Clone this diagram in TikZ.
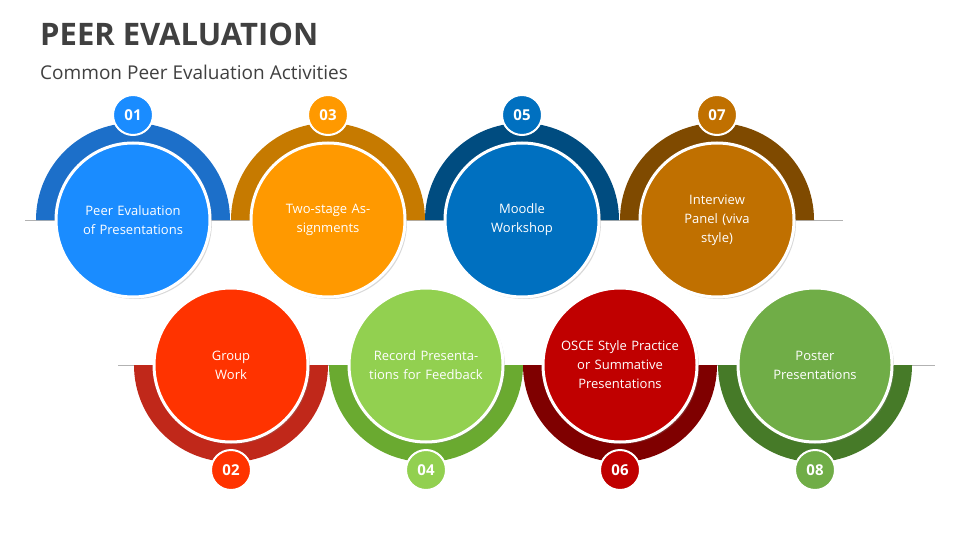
\documentclass[tikz,border=0pt]{standalone}
\usepackage{fontspec}
\setmainfont{Open Sans}
\usetikzlibrary{positioning, shadows}
\definecolor{inA}{HTML}{1A8CFF}\definecolor{outA}{HTML}{1C6FC9}
\definecolor{inB}{HTML}{FF3300}\definecolor{outB}{HTML}{C0281A}
\definecolor{inC}{HTML}{FF9900}\definecolor{outC}{HTML}{C67A00}
\definecolor{inD}{HTML}{92D050}\definecolor{outD}{HTML}{6AAA30}
\definecolor{inE}{HTML}{0070C0}\definecolor{outE}{HTML}{004C80}
\definecolor{inF}{HTML}{C00000}\definecolor{outF}{HTML}{7F0000}
\definecolor{inG}{HTML}{C07000}\definecolor{outG}{HTML}{7F4A00}
\definecolor{inH}{HTML}{70AD47}\definecolor{outH}{HTML}{467A28}
\definecolor{titlegray}{HTML}{404040}
\tikzset{
  disc/.style={circle, minimum size=154pt, inner sep=0pt, draw=white, line width=3pt,
    text=white, text width=120pt, align=center, font=\fontsize{13}{19}\selectfont,
    drop shadow={opacity=0.3, shadow xshift=2pt, shadow yshift=-2pt}},
  badge/.style={circle, minimum size=40pt, inner sep=0pt, draw=white, line width=2pt,
    text=white, font=\fontsize{15}{15}\selectfont\bfseries}
}
\begin{document}
\begin{tikzpicture}[x=1pt, y=1pt]
\useasboundingbox[fill=white] (0,0) rectangle (960,-540);
% Title
\node[anchor=base west, text=titlegray, font=\fontsize{31}{31}\selectfont\bfseries, inner sep=0pt] (title) at (40,-46) {PEER EVALUATION};
\node[anchor=base west, text=titlegray, font=\fontsize{19}{19}\selectfont, inner sep=0pt] (subtitle) at (40,-80) {Common Peer Evaluation Activities};

% Guide lines
\draw[gray!60, line width=1pt] (25,-220) -- (843,-220);
\draw[gray!60, line width=1pt] (118,-365) -- (935,-365);

% Activities
\foreach \cx/\cy/\s/\num/\col/\txt in {
  133/-220/1/01/A/{Peer Evaluation of Presentations},
  231/-365/-1/02/B/{Group\\Work},
  328/-220/1/03/C/{Two-stage Assignments},
  426/-365/-1/04/D/{Record Presentations for Feedback},
  522/-220/1/05/E/{Moodle\\Workshop},
  620/-365/-1/06/F/{OSCE Style Practice or Summative Presentations},
  717/-220/1/07/G/{Interview\\Panel (viva\\style)},
  815/-365/-1/08/H/{Poster\\Presentations}}{
  \fill[out\col] (\cx-97,\cy) arc (180:{180-180*\s}:97) -- cycle;
  \node[badge, fill=in\col] (badge\num) at (\cx,\cy+\s*105) {\num};
  \node[disc, fill=in\col] (act\num) at (\cx,\cy) {\txt};
}
\end{tikzpicture}
\end{document}
